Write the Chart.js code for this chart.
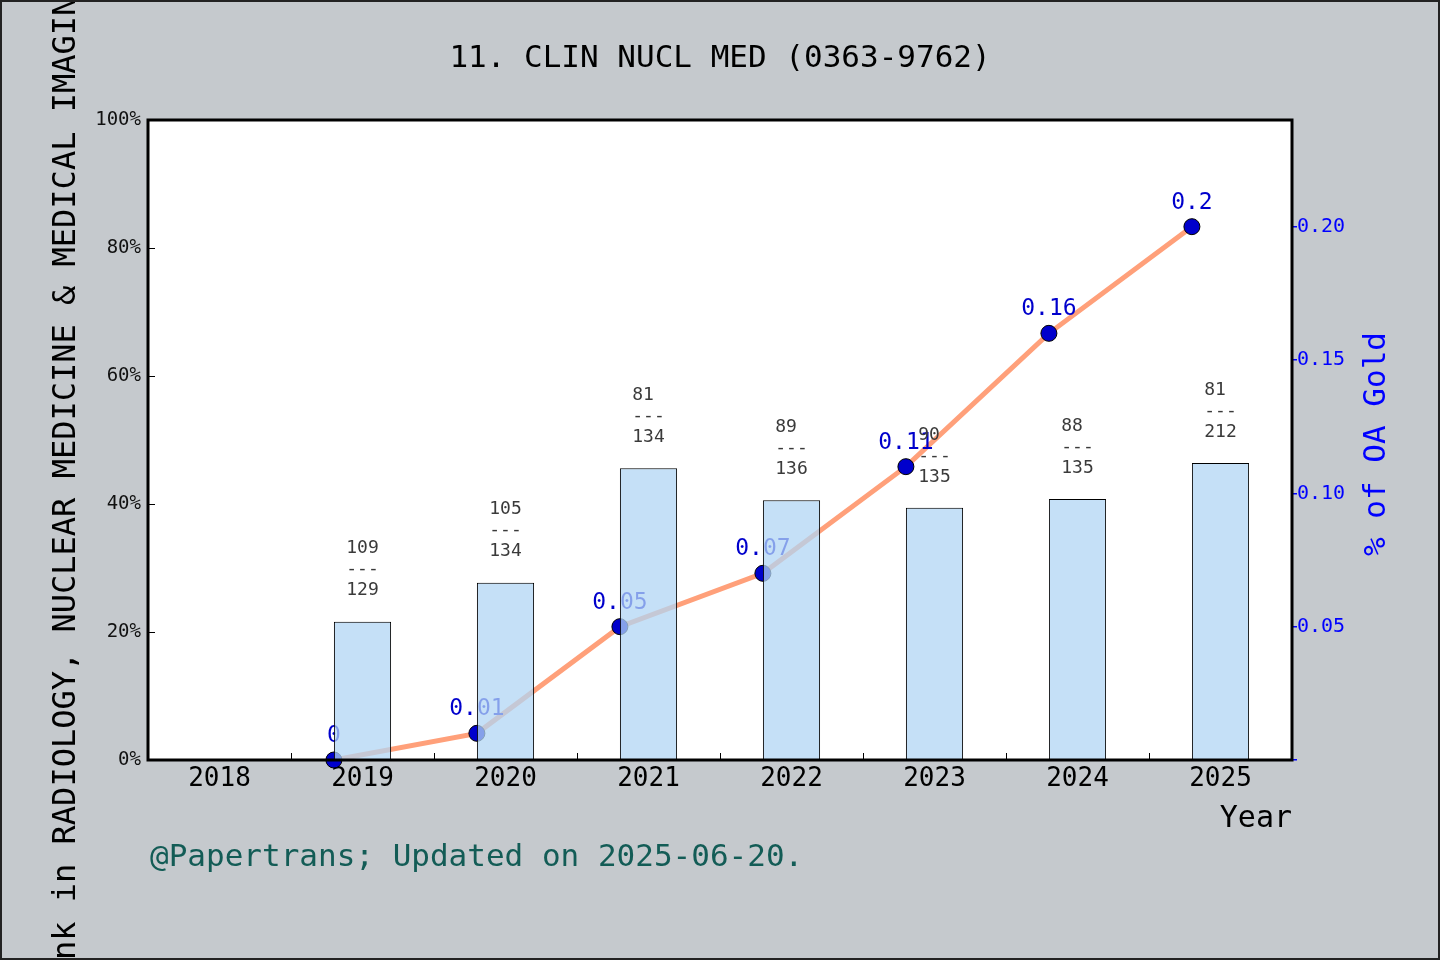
<!DOCTYPE html>
<html>
<head>
<meta charset="utf-8">
<script src="https://cdn.jsdelivr.net/npm/chart.js@4.4.1/dist/chart.umd.min.js"></script>
<style>
  html, body { margin: 0; padding: 0; background: #c5c9cd; }
  canvas { display: block; }
</style>
</head>
<body>
<canvas id="chart" width="1440" height="960"></canvas>
<script>
// values
const years = [2018, 2019, 2020, 2021, 2022, 2023, 2024, 2025];
const rankPercent = [null, 21.6, 27.7, 45.6, 40.6, 39.4, 40.8, 46.4];
const rankPosition = [null, 109, 105, 81, 89, 90, 88, 81];
const categoryTotal = [null, 129, 134, 134, 136, 135, 135, 212];
const oaGold = [null, 0, 0.01, 0.05, 0.07, 0.11, 0.16, 0.2];
const leftTicks = [0, 20, 40, 60, 80, 100];
const rightTicks = [0, 0.05, 0.10, 0.15, 0.20];

const MONO = '"DejaVu Sans Mono", monospace';
const LINE_SHIFT = 0.2; // the line sits on the left edge of each bar

const barPoints = years.map((yr, i) => ({ x: yr, y: rankPercent[i] }));
const linePoints = years.map((yr, i) => ({ x: yr - LINE_SHIFT, y: oaGold[i] }));

const decor = {
  id: 'decor',
  beforeDraw(chart) {
    const { ctx, chartArea: a } = chart;
    ctx.save();
    ctx.fillStyle = '#c5c9cd';
    ctx.fillRect(0, 0, chart.width, chart.height);
    ctx.fillStyle = '#ffffff';
    ctx.fillRect(a.left, a.top, a.right - a.left, a.bottom - a.top);
    ctx.restore();
  },
  // value labels of the line go under the bars
  afterDatasetDraw(chart, args) {
    if (args.index !== 1) return;
    const { ctx } = chart;
    const meta = chart.getDatasetMeta(1);
    ctx.save();
    ctx.font = '23px ' + MONO;
    ctx.fillStyle = '#0000cc';
    ctx.textAlign = 'center';
    ctx.textBaseline = 'middle';
    meta.data.forEach((pt, i) => {
      if (oaGold[i] === null) return;
      ctx.fillText(String(oaGold[i]), pt.x, pt.y - 24);
    });
    ctx.restore();
  },
  afterDatasetsDraw(chart) {
    const { ctx, chartArea: a } = chart;
    const xs = chart.scales.x, ys = chart.scales.y;
    ctx.save();
    // rank labels above bars
    ctx.font = '18px ' + MONO;
    ctx.fillStyle = '#3a3a3a';
    ctx.textAlign = 'left';
    ctx.textBaseline = 'middle';
    const meta = chart.getDatasetMeta(0);
    meta.data.forEach((bar, i) => {
      if (rankPercent[i] === null) return;
      const lines = [String(rankPosition[i]), '---', String(categoryTotal[i])];
      const w = Math.max(...lines.map(t => ctx.measureText(t).width));
      const x0 = bar.x - w / 2;
      ctx.fillText(lines[0], x0, bar.y - 73);
      ctx.fillText(lines[1], x0, bar.y - 52);
      ctx.fillText(lines[2], x0, bar.y - 31);
    });
    // inward tick marks
    ctx.strokeStyle = '#000';
    ctx.lineWidth = 1;
    ctx.beginPath();
    years.slice(0, -1).forEach(yr => {
      const px = Math.round(xs.getPixelForValue(yr + 0.5)) + 0.5;
      ctx.moveTo(px, a.bottom);
      ctx.lineTo(px, a.bottom - 7);
    });
    leftTicks.forEach(v => {
      const py = Math.round(ys.getPixelForValue(v)) + 0.5;
      ctx.moveTo(a.left, py);
      ctx.lineTo(a.left + 7, py);
    });
    ctx.stroke();
    // frame
    ctx.lineWidth = 3;
    ctx.strokeRect(a.left, a.top, a.right - a.left, a.bottom - a.top);
    ctx.restore();
  },
  afterDraw(chart) {
    const { ctx } = chart;
    ctx.save();
    ctx.textAlign = 'center';
    ctx.textBaseline = 'alphabetic';
    // left axis title (runs off the canvas like in the original)
    ctx.font = '32px ' + MONO;
    ctx.fillStyle = '#000';
    ctx.translate(75, 488);
    ctx.rotate(-Math.PI / 2);
    ctx.fillText('Rank in RADIOLOGY, NUCLEAR MEDICINE & MEDICAL IMAGING', 0, 0);
    ctx.setTransform(1, 0, 0, 1, 0, 0);
    // right axis title
    ctx.font = '31px ' + MONO;
    ctx.fillStyle = '#0000ff';
    ctx.translate(1385, 444);
    ctx.rotate(-Math.PI / 2);
    ctx.fillText('% of OA Gold', 0, 0);
    ctx.setTransform(1, 0, 0, 1, 0, 0);
    // footer
    ctx.textAlign = 'left';
    ctx.fillStyle = '#135c56';
    ctx.fillText('@Papertrans; Updated on 2025-06-20.', 150, 866);
    // outer border
    ctx.strokeStyle = '#222';
    ctx.lineWidth = 2;
    ctx.strokeRect(1, 1, chart.width - 2, chart.height - 2);
    ctx.restore();
  }
};

new Chart(document.getElementById('chart'), {
  type: 'bar',
  data: {
    datasets: [
      {
        type: 'bar',
        data: barPoints,
        xAxisID: 'x',
        yAxisID: 'y',
        backgroundColor: 'rgba(177, 213, 244, 0.75)',
        borderColor: '#000',
        borderWidth: 1,
        barPercentage: 0.4,
        categoryPercentage: 1.0,
        order: 0
      },
      {
        type: 'line',
        data: linePoints,
        xAxisID: 'x',
        yAxisID: 'y1',
        borderColor: '#ffa07a',
        borderWidth: 5,
        pointRadius: 8,
        pointBackgroundColor: '#0000cc',
        pointBorderColor: '#000',
        pointBorderWidth: 1,
        tension: 0,
        clip: false,
        order: 1
      }
    ]
  },
  options: {
    responsive: false,
    devicePixelRatio: 1,
    animation: false,
    layout: { padding: 0 },
    plugins: {
      legend: { display: false },
      tooltip: { enabled: false },
      title: {
        display: true,
        text: '11. CLIN NUCL MED (0363-9762)',
        color: '#000',
        font: { family: MONO, size: 31, weight: 'normal' },
        padding: { top: 40, bottom: 42.8 }
      }
    },
    scales: {
      x: {
        type: 'linear',
        position: 'bottom',
        min: 2017.5,
        max: 2025.5,
        offset: false,
        afterBuildTicks: s => { s.ticks = years.map(v => ({ value: v })); },
        afterFit: s => { s.height = 200; },
        grid: { display: false, drawTicks: false },
        border: { display: false },
        ticks: {
          color: '#000',
          font: { family: MONO, size: 26 },
          padding: 4,
          maxRotation: 0,
          autoSkip: false,
          callback: v => String(v)
        },
        title: {
          display: true,
          text: 'Year',
          align: 'end',
          color: '#000',
          font: { family: MONO, size: 30 },
          padding: { top: 0, bottom: 123 }
        }
      },
      y: {
        position: 'left',
        min: 0,
        max: 100,
        afterBuildTicks: s => { s.ticks = leftTicks.map(v => ({ value: v })); },
        afterFit: s => { s.width = 148; },
        grid: { display: false, drawTicks: false },
        border: { display: false },
        ticks: {
          color: '#111',
          font: { family: MONO, size: 19 },
          padding: 7,
          callback: v => v + '%'
        }
      },
      y1: {
        position: 'right',
        min: 0,
        max: 0.24,
        afterBuildTicks: s => { s.ticks = rightTicks.map(v => ({ value: v })); },
        afterFit: s => { s.width = 148; },
        grid: { display: true, drawOnChartArea: false, drawTicks: true, tickLength: 5, color: '#0000ff', lineWidth: 1.5 },
        border: { display: false },
        ticks: {
          color: '#0000ff',
          font: { family: MONO, size: 20 },
          padding: 0,
          callback: v => (v === 0 ? '' : v.toFixed(2))
        }
      }
    }
  },
  plugins: [decor]
});
</script>
</body>
</html>
